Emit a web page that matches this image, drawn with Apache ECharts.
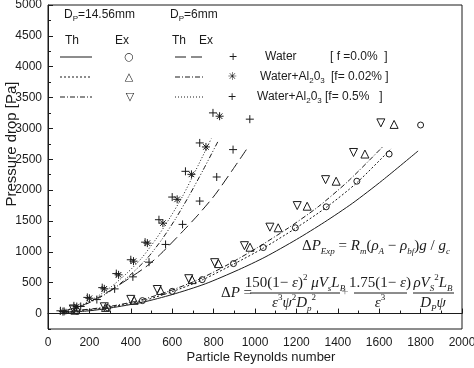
<!DOCTYPE html>
<html>
<head>
<meta charset="utf-8">
<script src="https://cdn.jsdelivr.net/npm/echarts@6/dist/echarts.min.js"></script>
<style>html,body{margin:0;padding:0;background:#fff}#container{width:474px;height:368px}</style>
</head>
<body>
<div id="container"></div>
<script>
var dom = document.getElementById("container");
var myChart = echarts.init(dom);

// axis ticks
var xTicks = [0, 200, 400, 600, 800, 1000, 1200, 1400, 1600, 1800, 2000];
var yTicks = [0, 500, 1000, 1500, 2000, 2500, 3000, 3500, 4000, 4500, 5000];

// Dp = 14.56 mm, experimental (Re, pressure drop)
var reWater14 = [140, 288, 456, 600, 745, 896, 1040, 1195, 1344, 1492, 1648, 1800];
var dpWater14 = [40, 95, 210, 360, 550, 810, 1070, 1390, 1730, 2145, 2585, 3055];
var reAl002_14 = [130, 278, 416, 544, 696, 824, 976, 1112, 1252, 1392, 1531, 1672];
var dpAl002_14 = [55, 100, 215, 375, 550, 810, 1075, 1390, 1740, 2145, 2585, 3065];
var reAl05_14 = [122, 272, 400, 528, 680, 805, 949, 1072, 1204, 1341, 1476, 1608];
var dpAl05_14 = [75, 110, 230, 390, 565, 825, 1100, 1400, 1750, 2170, 2610, 3090];

// Dp = 6 mm, experimental
var reWater6 = [78, 158, 236, 322, 410, 488, 568, 650, 733, 815, 894, 975];
var dpWater6 = [35, 115, 227, 400, 595, 833, 1120, 1445, 1823, 2213, 2657, 3150];
var reAl002_6 = [72, 139, 200, 272, 341, 413, 480, 555, 624, 693, 763, 829];
var dpAl002_6 = [32, 114, 248, 401, 628, 849, 1141, 1466, 1851, 2256, 2700, 3198];
var reAl05_6 = [60, 125, 190, 262, 330, 400, 469, 536, 600, 664, 733, 797];
var dpAl05_6 = [45, 125, 262, 420, 648, 872, 1157, 1521, 1888, 2305, 2765, 3252];

// theoretical curves as [Re, dP]
var thWater14 = [[70, 15], [200, 45], [300, 90], [456, 183], [600, 308], [760, 482], [920, 709], [1048, 914], [1200, 1200], [1336, 1482], [1472, 1790], [1616, 2160], [1788, 2635]];
var thAl002_14 = [[70, 20], [144, 45], [288, 100], [456, 205], [600, 355], [745, 545], [896, 800], [1040, 1060], [1195, 1380], [1344, 1720], [1492, 2120], [1660, 2680]];
var thAl05_14 = [[70, 22], [140, 50], [280, 105], [440, 212], [580, 358], [725, 548], [870, 795], [1010, 1065], [1160, 1385], [1305, 1730], [1450, 2145], [1616, 2700]];
var thWater6 = [[66, 30], [168, 135], [272, 315], [360, 500], [472, 755], [544, 965], [656, 1350], [728, 1610], [808, 1930], [896, 2350], [967, 2700]];
var thAl002_6 = [[65, 30], [160, 120], [250, 260], [325, 420], [405, 650], [478, 890], [550, 1200], [615, 1530], [680, 1900], [750, 2330], [824, 2808]];
var thAl05_6 = [[60, 30], [150, 120], [230, 260], [300, 420], [380, 650], [450, 890], [520, 1200], [585, 1530], [650, 1900], [715, 2330], [789, 2836]];

var ink = '#1b1b1b';
var sans = '"Liberation Sans", Arial, sans-serif';
var serif = '"Liberation Serif", "Times New Roman", serif';

var plusPath = 'path://M5,0V10M0,5H10';
var starPath = 'path://M5,0V10M0,5H10M1.5,1.5L8.5,8.5M8.5,1.5L1.5,8.5';

function pairs(xs, ys) {
    return xs.map(function (x, i) { return [x, ys[i]]; });
}

function curve(name, data, dash) {
    return {
        name: name, type: 'line', data: data, smooth: 0.25,
        showSymbol: false, silent: true, z: 2,
        lineStyle: { color: ink, width: 1, type: dash }
    };
}

function marks(name, data, symbol, size, rotate) {
    return {
        name: name, type: 'scatter', data: data, symbol: symbol, symbolSize: size,
        symbolRotate: rotate || 0, silent: true, z: 3,
        itemStyle: { color: 'rgba(0,0,0,0)', borderColor: ink, borderWidth: 1, opacity: 1 }
    };
}

var sansRich = {
    n: { fontFamily: sans, fontSize: 12, lineHeight: 16, verticalAlign: 'middle', color: ink },
    s: { fontFamily: sans, fontSize: 8, lineHeight: 6, verticalAlign: 'bottom', color: ink }
};
var mathRich = {
    n: { fontFamily: serif, fontSize: 15, lineHeight: 20, verticalAlign: 'middle', color: ink },
    i: { fontFamily: serif, fontStyle: 'italic', fontSize: 15, lineHeight: 20, verticalAlign: 'middle', color: ink },
    s: { fontFamily: serif, fontStyle: 'italic', fontSize: 9, lineHeight: 8, verticalAlign: 'bottom', color: ink },
    u: { fontFamily: serif, fontSize: 9, lineHeight: 8, verticalAlign: 'top', color: ink }
};

function label(x, y, text, rich, opts) {
    opts = opts || {};
    var align = opts.align || 'left';
    return {
        type: 'text', x: x, y: y, rotation: opts.rotation || 0, silent: true,
        style: {
            text: text, rich: rich, fill: opts.color || ink,
            font: opts.font || ('12px ' + sans),
            textAlign: align, align: align,
            textVerticalAlign: 'middle', verticalAlign: 'middle'
        }
    };
}

function seg(x1, y1, x2, y2, dash) {
    return {
        type: 'line', silent: true,
        shape: { x1: x1, y1: y1, x2: x2, y2: y2 },
        style: { stroke: ink, lineWidth: 1, lineDash: dash || null }
    };
}

var glyph = '11px "DejaVu Sans", sans-serif';
var rowY = [57, 77, 97];

var graphics = [
    // legend header
    label(64, 15, '{n|D}{s|P}{n|=14.56mm}', sansRich),
    label(170, 15, '{n|D}{s|P}{n|=6mm}', sansRich),
    label(65, 41, 'Th'), label(115, 41, 'Ex'),
    label(172, 41, 'Th'), label(199, 41, 'Ex'),
    // legend rows
    seg(60, rowY[0], 92, rowY[0]),
    seg(60, rowY[1], 92, rowY[1], [2, 2]),
    seg(60, rowY[2], 92, rowY[2], [5, 2, 1, 2]),
    label(129, rowY[0], '○', null, { font: glyph, align: 'center' }),
    label(129, rowY[1], '△', null, { font: glyph, align: 'center' }),
    label(130, rowY[2], '▽', null, { font: glyph, align: 'center' }),
    seg(175, rowY[0], 204, rowY[0], [11, 5]),
    seg(175, rowY[1], 204, rowY[1], [5, 2, 1, 2]),
    seg(175, rowY[2], 204, rowY[2], [1, 2]),
    label(233, rowY[0], '+', null, { font: glyph, align: 'center' }),
    label(232, rowY[1], '✳', null, { font: glyph, align: 'center' }),
    label(232, rowY[2], '+', null, { font: glyph, align: 'center' }),
    label(265, rowY[0], 'Water'),
    label(330, rowY[0], '[ f =0.0%  ]'),
    label(260, rowY[1], '{n|Water+Al}{s|2}{n|0}{s|3}', sansRich),
    label(331, rowY[1], '[f= 0.02% ]'),
    label(257, rowY[2], '{n|Water+Al}{s|2}{n|0}{s|3}', sansRich),
    label(325, rowY[2], '[f= 0.5%   ]'),
    // axis names
    label(12, 144, 'Pressure drop [Pa]', null, { font: '15px ' + sans, align: 'center', rotation: Math.PI / 2 }),
    label(261, 357, 'Particle Reynolds number', null, { font: '13px ' + sans, align: 'center' }),
    // equations
    label(302, 246, '{n|Δ}{i|P}{s|Exp}{n| = }{i|R}{s|m}{n|(}{i|ρ}{s|A}{n| − }{i|ρ}{s|bf}{n|)}{i|g}{n| / }{i|g}{s|c}', mathRich),
    label(221, 293, '{n|Δ}{i|P}{n| =}', mathRich),
    label(295, 283, '{n|150(1− }{i|ε}{n|)}{u|2}{i| μV}{s|s}{i|L}{s|B}', mathRich, { align: 'center' }),
    label(294, 303, '{i|ε}{u|3}{i|ψ}{u|2}{i|D}{s|p}{u|2}', mathRich, { align: 'center' }),
    seg(250, 293, 340, 293),
    label(345, 293, '+', null, { font: '13px ' + serif, align: 'center', color: '#777' }),
    label(380, 283, '{n|1.75(1− }{i|ε}{n|)}', mathRich, { align: 'center' }),
    label(380, 303, '{i|ε}{u|3}', mathRich, { align: 'center' }),
    seg(354, 293, 407, 293),
    label(433, 283, '{i|ρV}{s|S}{u|2}{i|L}{s|B}', mathRich, { align: 'center' }),
    label(433, 303, '{i|D}{s|P}{i|ψ}', mathRich, { align: 'center' }),
    seg(413, 293, 454, 293)
];

option = {
    animation: false,
    backgroundColor: '#fff',
    grid: {
        left: 48, right: 12, top: 5, bottom: 39,
        show: true, borderColor: ink, borderWidth: 1,
        outerBoundsMode: 'none', containLabel: false
    },
    xAxis: {
        type: 'value',
        min: xTicks[0], max: xTicks[xTicks.length - 1], interval: xTicks[1] - xTicks[0],
        axisLine: { lineStyle: { color: ink, width: 1 } },
        axisTick: { inside: true, length: 5, lineStyle: { color: ink } },
        minorTick: { show: true, splitNumber: 2, length: 3, lineStyle: { color: ink } },
        axisLabel: {
            color: ink, fontSize: 12, fontFamily: sans, margin: 8,
            formatter: function (v) { return String(v); }
        },
        splitLine: { show: false }
    },
    yAxis: [{
        type: 'value', min: -250, max: yTicks[yTicks.length - 1], interval: 250,
        axisLine: { show: true, lineStyle: { color: ink, width: 1 } },
        axisTick: { show: true, inside: true, length: 3, lineStyle: { color: ink } },
        axisLabel: {
            color: ink, fontSize: 12, fontFamily: sans, margin: 6,
            customValues: yTicks,
            formatter: function (v) { return (v >= 0 && v % 500 === 0) ? String(v) : ''; }
        },
        splitLine: { show: false }
    }, {
        type: 'value', min: -250, max: yTicks[yTicks.length - 1], interval: 250,
        position: 'left',
        axisLine: { show: false },
        axisTick: { show: true, inside: true, length: 5, customValues: yTicks, lineStyle: { color: ink } },
        axisLabel: { show: false },
        splitLine: { show: false }
    }],
    graphic: graphics,
    series: [
        curve('Th water 14.56', thWater14, 'solid'),
        curve('Th Al2O3 0.02% 14.56', thAl002_14, [2, 2]),
        curve('Th Al2O3 0.5% 14.56', thAl05_14, [5, 2, 1, 2]),
        curve('Th water 6', thWater6, [11, 5]),
        curve('Th Al2O3 0.02% 6', thAl002_6, [5, 2, 1, 2, 1, 2]),
        curve('Th Al2O3 0.5% 6', thAl05_6, [1, 2]),
        marks('Ex water 14.56', pairs(reWater14, dpWater14), 'circle', 6),
        marks('Ex Al2O3 0.02% 14.56', pairs(reAl002_14, dpAl002_14), 'triangle', 8),
        marks('Ex Al2O3 0.5% 14.56', pairs(reAl05_14, dpAl05_14), 'triangle', 8, 180),
        marks('Ex water 6', pairs(reWater6, dpWater6), plusPath, 8),
        marks('Ex Al2O3 0.02% 6', pairs(reAl002_6, dpAl002_6), starPath, 8),
        marks('Ex Al2O3 0.5% 6', pairs(reAl05_6, dpAl05_6), plusPath, 8)
    ]
};

if (option && typeof option === "object") {
    myChart.setOption(option, true);
}
</script>
</body>
</html>
